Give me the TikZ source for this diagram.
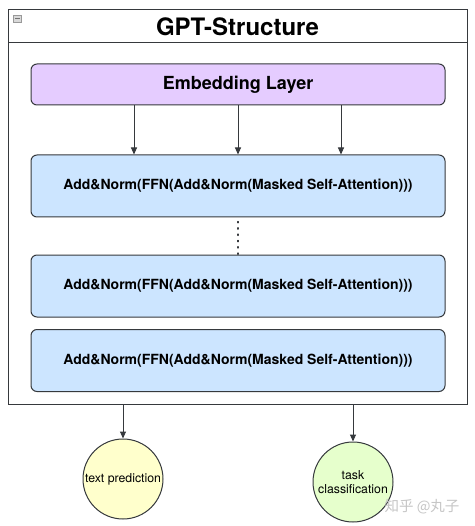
\documentclass[tikz,border=0pt]{standalone}
\usepackage{fontspec}
\setmainfont{TeX Gyre Heros}
\newfontfamily\cjk{Noto Sans CJK SC}
\usetikzlibrary{arrows.meta}
\definecolor{embfill}{HTML}{E5CCFF}
\definecolor{blkfill}{HTML}{CCE5FF}
\definecolor{yelfill}{HTML}{FFFFCC}
\definecolor{grnfill}{HTML}{E6FFCC}
\definecolor{edge}{HTML}{36393D}
\tikzset{
  box/.style={draw=edge, line width=1pt, rounded corners=6pt, minimum width=414pt, inner sep=0pt},
  blk/.style={box, fill=blkfill, minimum height=62pt, font=\fontsize{14}{16}\selectfont\bfseries},
  circ/.style={draw=edge, line width=1pt, circle, minimum size=80pt, inner sep=0pt, align=center, font=\fontsize{12.3}{14.5}\selectfont},
  arr/.style={draw=edge, line width=1pt, -{Triangle[length=7pt,width=6pt]}},
}
\begin{document}
\begin{tikzpicture}[x=1pt,y=-1pt]
\useasboundingbox (0,0) rectangle (474,526);
\fill[white] (0,0) rectangle (474,526);
% container
\node[draw=edge, line width=1pt, minimum width=459pt, minimum height=395pt, inner sep=0pt, anchor=north west] (cont) at (8,9) {};
\coordinate (sepL) at (8,43);
\coordinate (sepR) at (467,43);
\draw[edge, line width=1pt] (sepL) -- (sepR);
\node[font=\fontsize{24}{28}\selectfont\bfseries] (title) at (237.5,27) {GPT-Structure};
% collapse icon
\node[draw=gray!80, fill=gray!30, minimum width=8pt, minimum height=7pt, inner sep=0pt] (icon) at (17.5,18.5) {};
\draw[gray!90!black, line width=0.9pt] ([xshift=-2.5pt]icon.center) -- ([xshift=2.5pt]icon.center);
% embedding
\node[box, fill=embfill, minimum height=41pt, font=\fontsize{18}{20}\selectfont\bfseries] (emb) at (238,84.5) {Embedding Layer};
% blocks
\node[blk] (b1) at (238,186) {Add\&Norm(FFN(Add\&Norm(Masked Self-Attention)))};
\node[blk] (b2) at (238,286) {Add\&Norm(FFN(Add\&Norm(Masked Self-Attention)))};
\node[blk] (b3) at (238,360.5) {Add\&Norm(FFN(Add\&Norm(Masked Self-Attention)))};
% arrows emb -> b1
\foreach \x in {134,238,341}{
  \draw[arr] (emb.south -| \x,0) -- (b1.north -| \x,0);
}
% dots
\draw[edge, line width=1.3pt, dash pattern=on 1.3pt off 5pt, line cap=round] (b1.south) ++(0,4) -- (b2.north);
% outputs
\node[circ, fill=yelfill] (tp) at (123,479) {text prediction};
\node[circ, fill=grnfill] (tc) at (353,482) {task\\classification};
\draw[arr] (cont.south -| tp.north) -- (tp.north);
\draw[arr] (cont.south -| tc.north) -- (tc.north);
% watermark
\node[font=\cjk\fontsize{14.5}{16}\selectfont, text=gray!45, anchor=east] (wm) at (463,507) {知乎 @丸子};
\end{tikzpicture}
\end{document}
